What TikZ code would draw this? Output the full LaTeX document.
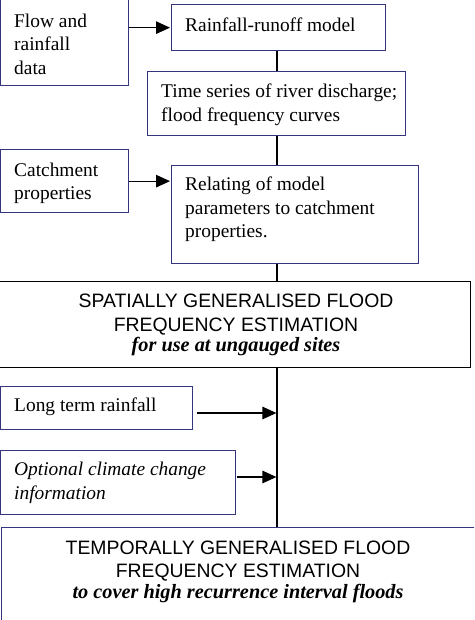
\documentclass[tikz,border=0pt]{standalone}
\usepackage{fontspec}
\setmainfont{Liberation Serif}
\newfontfamily\capsfont{Liberation Sans}
\usetikzlibrary{arrows.meta}
\definecolor{boxblue}{HTML}{34347F}
\tikzset{
  every node/.style={font=\fontsize{19.4}{23.5}\selectfont},
  inbox/.style={draw=boxblue, line width=1.3pt, fill=white, anchor=north west, inner sep=0pt},
  bigbox/.style={line width=1.3pt, fill=white, anchor=north west, inner sep=0pt},
  boxtext/.style={align=left, inner sep=0pt, anchor=west},
  headtext/.style={align=center, inner sep=0pt, anchor=north},
  trunk/.style={draw=black, line width=1.2pt},
  feed/.style={draw=black, line width=1.2pt, -{Triangle[length=14pt,width=12.5pt]}},
}
\newcommand{\bi}[1]{{\fontsize{20.3}{23.5}\selectfont\textbf{\textit{#1}}}}
\begin{document}
\begin{tikzpicture}[x=1pt,y=-1pt]
\useasboundingbox (0,0) rectangle (474,620);
\clip (0,0) rectangle (474,620);
% boxes
\node[inbox, minimum width=128pt, minimum height=87pt] (flow) at (0,-2) {};
\node[boxtext] (flowt) at ([xshift=14pt,yshift=-2pt]flow.west) {Flow and\\rainfall\\data};
\node[inbox, minimum width=214pt, minimum height=46pt] (rr) at (171,4) {};
\node[boxtext] (rrt) at ([xshift=14pt,yshift=2.5pt]rr.west) {Rainfall-runoff model};
\node[inbox, minimum width=258pt, minimum height=64pt] (ts) at (147,71) {};
\node[boxtext] (tst) at ([xshift=14pt,yshift=-1pt]ts.west) {Time series of river discharge;\\flood frequency curves};
\node[inbox, minimum width=128pt, minimum height=63pt] (catch) at (0,149) {};
\node[boxtext] (catcht) at ([xshift=14pt,yshift=-2pt]catch.west) {Catchment\\properties};
\node[inbox, minimum width=247pt, minimum height=98pt] (rel) at (171,165) {};
\node[boxtext] (relt) at ([xshift=14pt,yshift=5pt]rel.west) {Relating of model\\parameters to catchment\\properties.};
\node[bigbox, draw=black, minimum width=471pt, minimum height=86pt] (sp) at (-1,281) {};
\node[headtext] (spt) at (236,294)
  {{\capsfont SPATIALLY GENERALISED FLOOD}\\{\capsfont FREQUENCY ESTIMATION}\\[-3pt]\bi{for use at ungauged sites}};
\node[inbox, minimum width=192pt, minimum height=43pt] (ltr) at (0,386) {};
\node[boxtext] (ltrt) at ([xshift=14pt,yshift=1pt]ltr.west) {Long term rainfall};
\node[inbox, minimum width=235pt, minimum height=64pt] (opt) at (0,450) {};
\node[boxtext] (optt) at ([xshift=14pt,yshift=0pt]opt.west) {\textit{Optional climate change}\\\textit{information}};
\node[bigbox, draw=boxblue, minimum width=480pt, minimum height=110pt] (tp) at (1,527) {};
\node[headtext] (tpt) at (238,540.5)
  {{\capsfont TEMPORALLY GENERALISED FLOOD}\\{\capsfont FREQUENCY ESTIMATION}\\[-3pt]\bi{to cover high recurrence interval floods}};
% trunk
\coordinate (j1) at (277,413);
\coordinate (j2) at (277,477);
\draw[trunk] (rr.south -| j1) -- (ts.north -| j1);
\draw[trunk] (ts.south -| j1) -- (rel.north -| j1);
\draw[trunk] (rel.south -| j1) -- (sp.north -| j1);
\draw[trunk] (sp.south -| j1) -- (tp.north -| j1);
% feeds
\draw[feed] (rr.west -| flow.east) -- ([xshift=-1pt]rr.west);
\draw[feed] (catch.east) -- ([xshift=-1pt]catch.east -| rel.west);
\draw[feed, shorten <=4pt] (j1 -| ltr.east) -- ([xshift=-0.6pt]j1);
\draw[feed, shorten <=1pt] (j2 -| opt.east) -- ([xshift=-0.6pt]j2);
\end{tikzpicture}
\end{document}
